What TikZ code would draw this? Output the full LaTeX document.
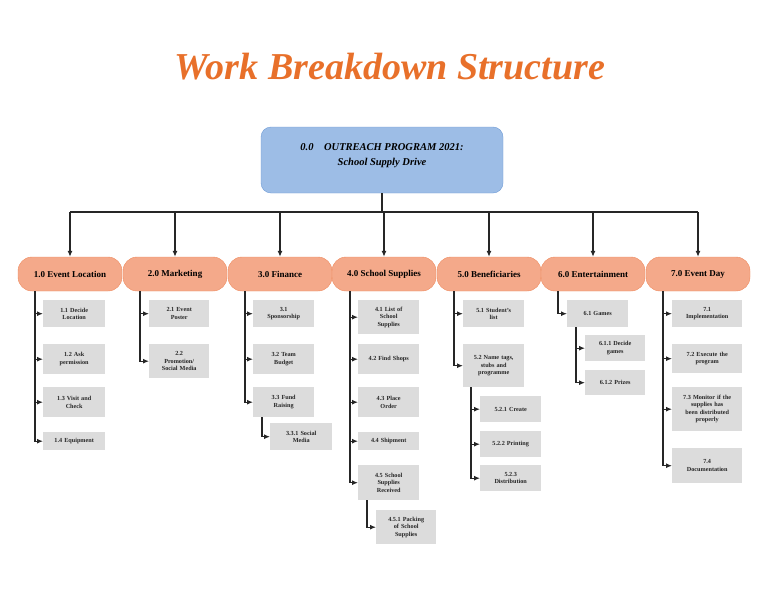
\documentclass[tikz,border=0pt]{standalone}
\usepackage{fontspec}
\setmainfont{Liberation Serif}
\usetikzlibrary{arrows.meta,shadows}
\definecolor{lvl}{HTML}{F4A98A}
\definecolor{lvlb}{HTML}{EE8A5E}
\definecolor{rootf}{HTML}{9DBDE6}
\definecolor{rootb}{HTML}{6F9BD6}
\definecolor{cell}{HTML}{DCDCDC}
\definecolor{ttl}{HTML}{E8702A}
\tikzset{
 lv/.style={draw=lvlb,fill=lvl,rounded corners=14pt,minimum width=104pt,minimum height=34pt,font=\fontsize{9}{10}\selectfont\bfseries,inner sep=1pt},
 cb/.style={fill=cell,anchor=north west,font=\fontsize{6.2}{7.5}\selectfont\bfseries,align=center,inner sep=1pt,text=black!85},
 arr/.style={draw=black!85,line width=1.1pt,-{Latex[length=6pt,width=5pt]}},
 ln/.style={draw=black!85,line width=1.1pt}
}
\newcommand{\cbox}[6]{\node[cb,minimum width=#4pt,minimum height=#5pt,text width=#4pt-2pt] (#1) at (#2,#3) {#6};}
\begin{document}
\begin{tikzpicture}[x=1pt,y=-1pt]
\useasboundingbox (0,0) rectangle (768,594);
\node[font=\fontsize{38}{40}\selectfont\bfseries\itshape,text=ttl] (title) at (390,67) {Work Breakdown Structure};
\node[draw=rootb,fill=rootf,rounded corners=10pt,minimum width=242pt,minimum height=66pt] (root) at (382,160) {};
\node[align=center,font=\fontsize{10.5}{15}\selectfont\bfseries\itshape] (rootlbl) at (382,156) {0.0\quad OUTREACH PROGRAM 2021:\\School Supply Drive};
\foreach \n/\x/\t in {1/70/1.0 Event Location,2/175/2.0 Marketing,3/280/3.0 Finance,4/384/4.0 School Supplies,5/489/5.0 Beneficiaries,6/593/6.0 Entertainment,7/698/7.0 Event Day}{
 \node[lv] (L\n) at (\x,274) {\t};
 \coordinate (h\n) at (\x,212);
 \draw[arr] (h\n) -- (L\n.north);
}
\coordinate (hc) at (382,212);
\draw[ln] (root.south) -- (hc);
\draw[ln] (h1) -- (h7);
% column 1
\cbox{b11}{43}{300}{62}{27}{1.1 Decide\\Location}
\cbox{b12}{43}{344}{62}{30}{1.2 Ask\\permission}
\cbox{b13}{43}{387}{62}{30}{1.3 Visit and\\Check}
\cbox{b14}{43}{432}{62}{18}{1.4 Equipment}
\coordinate (s1) at (35,291);
\foreach \b in {b11,b12,b13,b14} \draw[arr] (s1) |- (\b.west);
% column 2
\cbox{b21}{149}{300}{60}{27}{2.1 Event\\Poster}
\cbox{b22}{149}{344}{60}{34}{2.2\\Promotion/\\Social Media}
\coordinate (s2) at (140,291);
\foreach \b in {b21,b22} \draw[arr] (s2) |- (\b.west);
% column 3
\cbox{b31}{253}{300}{61}{27}{3.1\\Sponsorship}
\cbox{b32}{253}{344}{61}{30}{3.2 Team\\Budget}
\cbox{b33}{253}{387}{61}{30}{3.3 Fund\\Raising}
\cbox{b331}{270}{423}{62}{27}{3.3.1 Social\\Media}
\coordinate (s3) at (245,291);
\foreach \b in {b31,b32,b33} \draw[arr] (s3) |- (\b.west);
\coordinate (s33) at (262,417);
\draw[arr] (s33) |- (b331.west);
% column 4
\cbox{b41}{358}{300}{61}{34}{4.1 List of\\School\\Supplies}
\cbox{b42}{358}{344}{61}{30}{4.2 Find Shops\\[6pt]}
\cbox{b43}{358}{387}{61}{30}{4.3 Place\\Order}
\cbox{b44}{358}{432}{61}{18}{4.4 Shipment}
\cbox{b45}{358}{465}{61}{35}{4.5 School\\Supplies\\Received}
\cbox{b451}{376}{510}{60}{34}{4.5.1 Packing\\of School\\Supplies}
\coordinate (s4) at (350,291);
\foreach \b in {b41,b42,b43,b44,b45} \draw[arr] (s4) |- (\b.west);
\coordinate (s45) at (367,500);
\draw[arr] (s45) |- (b451.west);
% column 5
\cbox{b51}{463}{300}{61}{27}{5.1 Student's\\list}
\cbox{b52}{463}{344}{61}{43}{5.2 Name tags,\\stubs and\\programme\\[4pt]}
\cbox{b521}{480}{396}{61}{26}{5.2.1 Create\\[5pt]}
\cbox{b522}{480}{431}{61}{26}{5.2.2 Printing\\[5pt]}
\cbox{b523}{480}{465}{61}{26}{5.2.3\\Distribution}
\coordinate (s5) at (454,291);
\foreach \b in {b51,b52} \draw[arr] (s5) |- (\b.west);
\coordinate (s52) at (471,387);
\foreach \b in {b521,b522,b523} \draw[arr] (s52) |- (\b.west);
% column 6
\cbox{b61}{567}{300}{61}{27}{6.1 Games\\[6pt]}
\cbox{b611}{585}{335}{60}{26}{6.1.1 Decide\\games}
\cbox{b612}{585}{370}{60}{25}{6.1.2 Prizes\\[5pt]}
\coordinate (s6) at (558,291);
\draw[arr] (s6) |- (b61.west);
\coordinate (s61) at (576,327);
\foreach \b in {b611,b612} \draw[arr] (s61) |- (\b.west);
% column 7
\cbox{b71}{672}{300}{70}{27}{7.1\\Implementation}
\cbox{b72}{672}{344}{70}{29}{7.2 Execute the\\program}
\cbox{b73}{672}{387}{70}{44}{7.3 Monitor if the\\supplies has\\been distributed\\properly}
\cbox{b74}{672}{448}{70}{35}{7.4\\Documentation}
\coordinate (s7) at (663,291);
\foreach \b in {b71,b72,b73,b74} \draw[arr] (s7) |- (\b.west);
\end{tikzpicture}
\end{document}
